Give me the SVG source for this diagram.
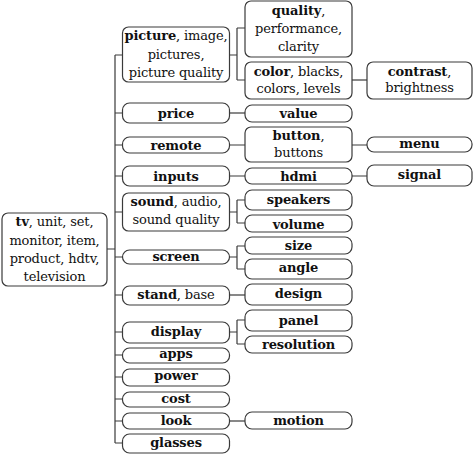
<svg xmlns="http://www.w3.org/2000/svg" width="474" height="455" viewBox="0 0 474 455">
<style>
rect{fill:#fff;stroke:#3a3a3a;stroke-width:1.2}
text{font-family:"DejaVu Serif",serif;font-size:13px;letter-spacing:-0.15px;fill:#111;text-anchor:middle}
.b{font-weight:bold}
#connectors path{fill:none;stroke:#3a3a3a;stroke-width:1.2}
</style>
<rect x="0" y="0" width="474" height="455" style="fill:#fff;stroke:none"/>
<g id="connectors">
<path d="M107,249H115M115,55V443"/>
<path d="M115,55H122M115,113H122M115,145H122M115,176H122M115,212H122M115,257H122M115,295H122M115,332H122M115,355H122M115,377H122M115,399H122M115,421H122M115,443H122"/>
<path d="M229,55H237M237,28V80M237,28H245M237,80H245"/>
<path d="M352,80H367"/>
<path d="M229,113H245"/>
<path d="M229,145H245M352,145H367"/>
<path d="M229,176H245M352,176H367"/>
<path d="M229,212H237M237,200V223M237,200H245M237,223H245"/>
<path d="M229,257H237M237,246V269M237,246H245M237,269H245"/>
<path d="M229,295H245"/>
<path d="M229,332H237M237,320V344M237,320H245M237,344H245"/>
<path d="M229,421H245"/>
</g>
<g id="tv"><rect x="2" y="213" width="105" height="73" rx="6"/><text x="54.5" y="226"><tspan class="b">tv</tspan>, unit, set,</text><text x="54.5" y="245">monitor, item,</text><text x="54.5" y="263">product, hdtv,</text><text x="54.5" y="281">television</text></g>
<g id="picture"><rect x="122.5" y="27" width="107" height="55" rx="6"/><text x="176" y="40"><tspan class="b">picture</tspan>, image,</text><text x="176" y="59">pictures,</text><text x="176" y="77">picture quality</text></g>
<g id="price"><rect x="122.5" y="103" width="107" height="20" rx="7"/><text x="176" y="118" class="b">price</text></g>
<g id="remote"><rect x="122.5" y="137" width="107" height="16" rx="7"/><text x="176" y="150" class="b">remote</text></g>
<g id="inputs"><rect x="122.5" y="166" width="107" height="20" rx="7"/><text x="176" y="181" class="b">inputs</text></g>
<g id="sound"><rect x="122.5" y="193" width="107" height="38" rx="6"/><text x="176" y="206"><tspan class="b">sound</tspan>, audio,</text><text x="176" y="224">sound quality</text></g>
<g id="screen"><rect x="122.5" y="250" width="107" height="14" rx="7"/><text x="176" y="261" class="b">screen</text></g>
<g id="stand"><rect x="122.5" y="286" width="107" height="19" rx="7"/><text x="176" y="299"><tspan class="b">stand</tspan>, base</text></g>
<g id="display"><rect x="122.5" y="322" width="107" height="21" rx="7"/><text x="176" y="336" class="b">display</text></g>
<g id="apps"><rect x="122.5" y="348" width="107" height="15" rx="7"/><text x="176" y="358" class="b">apps</text></g>
<g id="power"><rect x="122.5" y="369" width="107" height="17" rx="7"/><text x="176" y="380" class="b">power</text></g>
<g id="cost"><rect x="122.5" y="392" width="107" height="15" rx="7"/><text x="176" y="403" class="b">cost</text></g>
<g id="look"><rect x="122.5" y="413" width="107" height="16" rx="7"/><text x="176" y="425" class="b">look</text></g>
<g id="glasses"><rect x="122.5" y="434" width="107" height="19" rx="7"/><text x="176" y="447" class="b">glasses</text></g>
<g id="quality"><rect x="245" y="1" width="107" height="56" rx="6"/><text x="298.5" y="15"><tspan class="b">quality</tspan>,</text><text x="298.5" y="33">performance,</text><text x="298.5" y="51">clarity</text></g>
<g id="color"><rect x="245" y="62" width="107" height="37" rx="6"/><text x="298.5" y="76"><tspan class="b">color</tspan>, blacks,</text><text x="298.5" y="93">colors, levels</text></g>
<g id="value"><rect x="245" y="105" width="107" height="17" rx="7"/><text x="298.5" y="118" class="b">value</text></g>
<g id="button"><rect x="245" y="127" width="107" height="35" rx="6"/><text x="298.5" y="140"><tspan class="b">button</tspan>,</text><text x="298.5" y="157">buttons</text></g>
<g id="hdmi"><rect x="245" y="168" width="107" height="16" rx="7"/><text x="298.5" y="181" class="b">hdmi</text></g>
<g id="speakers"><rect x="245" y="190" width="107" height="20" rx="7"/><text x="298.5" y="204" class="b">speakers</text></g>
<g id="volume"><rect x="245" y="215" width="107" height="17" rx="7"/><text x="298.5" y="229" class="b">volume</text></g>
<g id="size"><rect x="245" y="237" width="107" height="17" rx="7"/><text x="298.5" y="250" class="b">size</text></g>
<g id="angle"><rect x="245" y="259" width="107" height="20" rx="7"/><text x="298.5" y="272" class="b">angle</text></g>
<g id="design"><rect x="245" y="284" width="107" height="21" rx="7"/><text x="298.5" y="298" class="b">design</text></g>
<g id="panel"><rect x="245" y="310" width="107" height="21" rx="7"/><text x="298.5" y="325" class="b">panel</text></g>
<g id="resolution"><rect x="245" y="336" width="107" height="17" rx="7"/><text x="298.5" y="349" class="b">resolution</text></g>
<g id="motion"><rect x="245" y="412" width="107" height="17" rx="7"/><text x="298.5" y="425" class="b">motion</text></g>
<g id="contrast"><rect x="367" y="62" width="105" height="37" rx="6"/><text x="419.5" y="76"><tspan class="b">contrast</tspan>,</text><text x="419.5" y="92">brightness</text></g>
<g id="menu"><rect x="367" y="137" width="105" height="15" rx="7"/><text x="419.5" y="148" class="b">menu</text></g>
<g id="signal"><rect x="367" y="165" width="105" height="21" rx="7"/><text x="419.5" y="179" class="b">signal</text></g>
</svg>
